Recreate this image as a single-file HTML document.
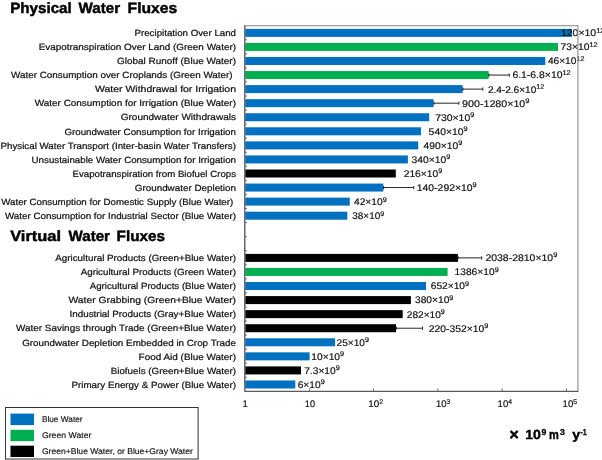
<!DOCTYPE html>
<html lang="en"><head><meta charset="utf-8"><title>Water Fluxes</title>
<style>
html,body{margin:0;padding:0;background:#fff;}
body{width:602px;height:460px;overflow:hidden;}
svg{display:block;}
text{font-family:"Liberation Sans",sans-serif;fill:#111;text-rendering:geometricPrecision;}
.l{font-size:9.0px;stroke:#111;stroke-width:0.22px;}
.v{font-size:9.6px;stroke:#111;stroke-width:0.18px;}
.s{font-size:6.8px;}
.t{font-size:14.9px;font-weight:bold;fill:#000;stroke:#000;stroke-width:0.45px;}
.u{font-size:13.2px;font-weight:bold;fill:#000;stroke:#000;stroke-width:0.4px;}
.us{font-size:8.6px;font-weight:bold;fill:#000;stroke:#000;stroke-width:0.3px;}
.g{font-size:8.2px;stroke:#111;stroke-width:0.15px;}
</style></head><body>
<svg width="602" height="460" viewBox="0 0 602 460">
<rect width="602" height="460" fill="#fff"/>
<text class="t" x="10.2" y="12.6" textLength="61.6" lengthAdjust="spacingAndGlyphs">Physical</text>
<text class="t" x="78.6" y="12.6" textLength="41.5" lengthAdjust="spacingAndGlyphs">Water</text>
<text class="t" x="127.6" y="12.6" textLength="49.6" lengthAdjust="spacingAndGlyphs">Fluxes</text>
<text class="t" x="10.2" y="241.1" textLength="50.9" lengthAdjust="spacingAndGlyphs">Virtual</text>
<text class="t" x="68.5" y="241.1" textLength="41.5" lengthAdjust="spacingAndGlyphs">Water</text>
<text class="t" x="116.6" y="241.1" textLength="48.4" lengthAdjust="spacingAndGlyphs">Fluxes</text>
<rect x="245.1" y="28.85" width="326.8" height="8.0" fill="#0070C0"/>
<text class="l" x="134.5" y="36.10" textLength="101.5" lengthAdjust="spacingAndGlyphs">Precipitation Over Land</text>
<text class="v" x="560.9" y="36.25" textLength="43.6" lengthAdjust="spacingAndGlyphs">120×10<tspan class="s" dy="-3.5">12</tspan></text>
<rect x="245.1" y="42.91" width="313.0" height="8.0" fill="#00B050"/>
<text class="l" x="38.7" y="50.16" textLength="197.3" lengthAdjust="spacingAndGlyphs">Evapotranspiration Over Land (Green Water)</text>
<text class="v" x="560.5" y="50.31" textLength="37.1" lengthAdjust="spacingAndGlyphs">73×10<tspan class="s" dy="-3.5">12</tspan></text>
<rect x="245.1" y="56.98" width="300.2" height="8.0" fill="#0070C0"/>
<text class="l" x="117" y="64.23" textLength="119.0" lengthAdjust="spacingAndGlyphs">Global Runoff (Blue Water)</text>
<text class="v" x="547.9" y="64.38" textLength="36.5" lengthAdjust="spacingAndGlyphs">46×10<tspan class="s" dy="-3.5">12</tspan></text>
<rect x="245.1" y="71.05" width="243.5" height="8.0" fill="#00B050"/>
<path d="M488.6 75.05H509.3M488.90000000000003 73.45v3.2M509.3 73.45v3.2" stroke="#1a1a1a" stroke-width="0.95" fill="none"/>
<text class="l" x="11" y="78.30" textLength="221.6" lengthAdjust="spacingAndGlyphs">Water Consumption over Croplands (Green Water)</text>
<text class="v" x="512.4" y="78.45" textLength="58.3" lengthAdjust="spacingAndGlyphs">6.1-6.8×10<tspan class="s" dy="-3.5">12</tspan></text>
<rect x="245.1" y="85.11" width="217.5" height="8.0" fill="#0070C0"/>
<path d="M462.6 89.11H482.8M462.90000000000003 87.51v3.2M482.8 87.51v3.2" stroke="#1a1a1a" stroke-width="0.95" fill="none"/>
<text class="l" x="95" y="92.36" textLength="141.0" lengthAdjust="spacingAndGlyphs">Water Withdrawal for Irrigation</text>
<text class="v" x="487.9" y="92.51" textLength="56.3" lengthAdjust="spacingAndGlyphs">2.4-2.6×10<tspan class="s" dy="-3.5">12</tspan></text>
<rect x="245.1" y="99.18" width="188.4" height="8.0" fill="#0070C0"/>
<path d="M433.5 103.18H458.9M433.8 101.58v3.2M458.9 101.58v3.2" stroke="#1a1a1a" stroke-width="0.95" fill="none"/>
<text class="l" x="34.8" y="106.43" textLength="201.2" lengthAdjust="spacingAndGlyphs">Water Consumption for Irrigation (Blue Water)</text>
<text class="v" x="462.1" y="106.58" textLength="67.4" lengthAdjust="spacingAndGlyphs">900-1280×10<tspan class="s" dy="-3.5">9</tspan></text>
<rect x="245.1" y="113.24" width="184.1" height="8.0" fill="#0070C0"/>
<text class="l" x="120.7" y="120.49" textLength="115.3" lengthAdjust="spacingAndGlyphs">Groundwater Withdrawals</text>
<text class="v" x="435.2" y="120.64" textLength="39.1" lengthAdjust="spacingAndGlyphs">730×10<tspan class="s" dy="-3.5">9</tspan></text>
<rect x="245.1" y="127.31" width="175.9" height="8.0" fill="#0070C0"/>
<text class="l" x="64.4" y="134.56" textLength="171.6" lengthAdjust="spacingAndGlyphs">Groundwater Consumption for Irrigation</text>
<text class="v" x="428.6" y="134.71" textLength="39.1" lengthAdjust="spacingAndGlyphs">540×10<tspan class="s" dy="-3.5">9</tspan></text>
<rect x="245.1" y="141.37" width="173.1" height="8.0" fill="#0070C0"/>
<text class="l" x="0.5" y="148.62" textLength="235.5" lengthAdjust="spacingAndGlyphs">Physical Water Transport (Inter-basin Water Transfers)</text>
<text class="v" x="423.5" y="148.77" textLength="38.7" lengthAdjust="spacingAndGlyphs">490×10<tspan class="s" dy="-3.5">9</tspan></text>
<rect x="245.1" y="155.44" width="162.8" height="8.0" fill="#0070C0"/>
<text class="l" x="31.6" y="162.69" textLength="204.4" lengthAdjust="spacingAndGlyphs">Unsustainable Water Consumption for Irrigation</text>
<text class="v" x="411.6" y="162.84" textLength="38.7" lengthAdjust="spacingAndGlyphs">340×10<tspan class="s" dy="-3.5">9</tspan></text>
<rect x="245.1" y="169.50" width="150.7" height="8.0" fill="#000000"/>
<text class="l" x="72.5" y="176.75" textLength="163.5" lengthAdjust="spacingAndGlyphs">Evapotranspiration from Biofuel Crops</text>
<text class="v" x="403.7" y="176.90" textLength="38.6" lengthAdjust="spacingAndGlyphs">216×10<tspan class="s" dy="-3.5">9</tspan></text>
<rect x="245.1" y="183.56" width="138.2" height="8.0" fill="#0070C0"/>
<path d="M383.3 187.56H413.8M383.6 185.97v3.2M413.8 185.97v3.2" stroke="#1a1a1a" stroke-width="0.95" fill="none"/>
<text class="l" x="134.8" y="190.81" textLength="101.2" lengthAdjust="spacingAndGlyphs">Groundwater Depletion</text>
<text class="v" x="416.8" y="190.97" textLength="59.9" lengthAdjust="spacingAndGlyphs">140-292×10<tspan class="s" dy="-3.5">9</tspan></text>
<rect x="245.1" y="197.63" width="104.7" height="8.0" fill="#0070C0"/>
<text class="l" x="1.3" y="204.88" textLength="231.9" lengthAdjust="spacingAndGlyphs">Water Consumption for Domestic Supply (Blue Water)</text>
<text class="v" x="354.0" y="205.03" textLength="32.7" lengthAdjust="spacingAndGlyphs">42×10<tspan class="s" dy="-3.5">9</tspan></text>
<rect x="245.1" y="211.69" width="102.2" height="8.0" fill="#0070C0"/>
<text class="l" x="5.0" y="218.94" textLength="231.0" lengthAdjust="spacingAndGlyphs">Water Consumption for Industrial Sector (Blue Water)</text>
<text class="v" x="352.3" y="219.09" textLength="31.9" lengthAdjust="spacingAndGlyphs">38×10<tspan class="s" dy="-3.5">9</tspan></text>
<rect x="245.1" y="253.89" width="212.8" height="8.0" fill="#000000"/>
<path d="M457.9 257.89H481.7M458.2 256.29v3.2M481.7 256.29v3.2" stroke="#1a1a1a" stroke-width="0.95" fill="none"/>
<text class="l" x="55.3" y="261.14" textLength="180.7" lengthAdjust="spacingAndGlyphs">Agricultural Products (Green+Blue Water)</text>
<text class="v" x="485.4" y="260.59" textLength="71.9" lengthAdjust="spacingAndGlyphs">2038-2810×10<tspan class="s" dy="-3.5">9</tspan></text>
<rect x="245.1" y="267.95" width="202.5" height="8.0" fill="#00B050"/>
<text class="l" x="80.7" y="275.20" textLength="155.3" lengthAdjust="spacingAndGlyphs">Agricultural Products (Green Water)</text>
<text class="v" x="454.5" y="275.35" textLength="44.2" lengthAdjust="spacingAndGlyphs">1386×10<tspan class="s" dy="-3.5">9</tspan></text>
<rect x="245.1" y="282.02" width="180.9" height="8.0" fill="#0070C0"/>
<text class="l" x="89.7" y="289.27" textLength="146.3" lengthAdjust="spacingAndGlyphs">Agricultural Products (Blue Water)</text>
<text class="v" x="430.8" y="289.42" textLength="38.2" lengthAdjust="spacingAndGlyphs">652×10<tspan class="s" dy="-3.5">9</tspan></text>
<rect x="245.1" y="296.09" width="165.8" height="8.0" fill="#000000"/>
<text class="l" x="68.5" y="303.34" textLength="167.5" lengthAdjust="spacingAndGlyphs">Water Grabbing (Green+Blue Water)</text>
<text class="v" x="415.0" y="303.49" textLength="38.4" lengthAdjust="spacingAndGlyphs">380×10<tspan class="s" dy="-3.5">9</tspan></text>
<rect x="245.1" y="310.15" width="157.6" height="8.0" fill="#000000"/>
<text class="l" x="69.5" y="317.40" textLength="166.5" lengthAdjust="spacingAndGlyphs">Industrial Products (Gray+Blue Water)</text>
<text class="v" x="406.8" y="317.55" textLength="38.0" lengthAdjust="spacingAndGlyphs">282×10<tspan class="s" dy="-3.5">9</tspan></text>
<rect x="245.1" y="324.22" width="150.9" height="8.0" fill="#000000"/>
<path d="M396.0 328.22H422.5M396.3 326.62v3.2M422.5 326.62v3.2" stroke="#1a1a1a" stroke-width="0.95" fill="none"/>
<text class="l" x="16" y="331.47" textLength="220.0" lengthAdjust="spacingAndGlyphs">Water Savings through Trade (Green+Blue Water)</text>
<text class="v" x="428.8" y="331.62" textLength="59.6" lengthAdjust="spacingAndGlyphs">220-352×10<tspan class="s" dy="-3.5">9</tspan></text>
<rect x="245.1" y="338.28" width="90.0" height="8.0" fill="#0070C0"/>
<text class="l" x="22.2" y="345.53" textLength="213.8" lengthAdjust="spacingAndGlyphs">Groundwater Depletion Embedded in Crop Trade</text>
<text class="v" x="336.6" y="345.68" textLength="32.4" lengthAdjust="spacingAndGlyphs">25×10<tspan class="s" dy="-3.5">9</tspan></text>
<rect x="245.1" y="352.35" width="64.5" height="8.0" fill="#0070C0"/>
<text class="l" x="138.6" y="359.60" textLength="97.4" lengthAdjust="spacingAndGlyphs">Food Aid (Blue Water)</text>
<text class="v" x="311.3" y="359.75" textLength="32.8" lengthAdjust="spacingAndGlyphs">10×10<tspan class="s" dy="-3.5">9</tspan></text>
<rect x="245.1" y="366.41" width="55.9" height="8.0" fill="#000000"/>
<text class="l" x="110.7" y="373.66" textLength="125.3" lengthAdjust="spacingAndGlyphs">Biofuels (Green+Blue Water)</text>
<text class="v" x="304.2" y="373.81" textLength="35.6" lengthAdjust="spacingAndGlyphs">7.3×10<tspan class="s" dy="-3.5">9</tspan></text>
<rect x="245.1" y="380.48" width="50.2" height="8.0" fill="#0070C0"/>
<text class="l" x="71.5" y="387.73" textLength="164.5" lengthAdjust="spacingAndGlyphs">Primary Energy &amp; Power (Blue Water)</text>
<text class="v" x="297.7" y="387.88" textLength="27.0" lengthAdjust="spacingAndGlyphs">6×10<tspan class="s" dy="-3.5">9</tspan></text>
<rect x="244.8" y="25.7" width="333.1" height="365.7" fill="none" stroke="#969696" stroke-width="1.2"/><path d="M244.8 25.4V391.35H578.1999999999999" fill="none" stroke="#4a4a4a" stroke-width="0.9"/>
<path d="M244.8 39.77h2.2M244.8 53.83h2.2M244.8 67.89h2.2M244.8 81.96h2.2M244.8 96.03h2.2M244.8 110.09h2.2M244.8 124.16h2.2M244.8 138.22h2.2M244.8 152.28h2.2M244.8 166.35h2.2M244.8 180.41h2.2M244.8 194.48h2.2M244.8 208.54h2.2M244.8 222.61h2.2M244.8 236.67h2.2M244.8 250.74h2.2M244.8 264.81h2.2M244.8 278.87h2.2M244.8 292.94h2.2M244.8 307.00h2.2M244.8 321.06h2.2M244.8 335.13h2.2M244.8 349.19h2.2M244.8 363.26h2.2M244.8 377.32h2.2M309.6 391.35v-3M373.5 391.35v-3M437.8 391.35v-3M502.2 391.35v-3M566.5 391.35v-3" stroke="#555" stroke-width="0.8" fill="none"/>
<text class="v" x="242.4" y="406.8">1</text>
<text class="v" x="304.8" y="406.8" textLength="10.2" lengthAdjust="spacingAndGlyphs">10</text>
<text class="v" x="368.3" y="406.8" textLength="14.8" lengthAdjust="spacingAndGlyphs">10<tspan class="s" dy="-3.3">2</tspan></text>
<text class="v" x="436.0" y="406.8" textLength="14.2" lengthAdjust="spacingAndGlyphs">10<tspan class="s" dy="-3.3">3</tspan></text>
<text class="v" x="497.6" y="406.8" textLength="14.5" lengthAdjust="spacingAndGlyphs">10<tspan class="s" dy="-3.3">4</tspan></text>
<text class="v" x="562.6" y="406.8" textLength="14.5" lengthAdjust="spacingAndGlyphs">10<tspan class="s" dy="-3.3">5</tspan></text>
<text class="u" style="font-size:16.5px" x="509.2" y="439.6">×</text>
<text class="u" x="525.2" y="438.8" textLength="15.6" lengthAdjust="spacingAndGlyphs">10</text>
<text class="us" x="541.4" y="435.3" textLength="4.8" lengthAdjust="spacingAndGlyphs">9</text>
<text class="u" x="549.0" y="438.8" textLength="9.8" lengthAdjust="spacingAndGlyphs">m</text>
<text class="us" x="560.1" y="435.3" textLength="4.9" lengthAdjust="spacingAndGlyphs">3</text>
<text class="u" x="572.3" y="438.8" textLength="7.9" lengthAdjust="spacingAndGlyphs">y</text>
<text class="us" x="580.4" y="435.3" textLength="6.4" lengthAdjust="spacingAndGlyphs">-1</text>
<rect x="5.5" y="407.5" width="192.6" height="51.5" fill="#fff" stroke="#333" stroke-width="1"/>
<rect x="10.5" y="413.6" width="23.5" height="11.5" fill="#0070C0"/>
<rect x="10.5" y="429.8" width="23.5" height="11.3" fill="#00B050"/>
<rect x="10.5" y="445.7" width="23.5" height="11.3" fill="#000000"/>
<text class="g" x="41.9" y="422.2" textLength="40.7" lengthAdjust="spacingAndGlyphs">Blue Water</text>
<text class="g" x="41.9" y="438.0" textLength="49.5" lengthAdjust="spacingAndGlyphs">Green Water</text>
<text class="g" x="41.9" y="454.2" textLength="151" lengthAdjust="spacingAndGlyphs">Green+Blue Water, or Blue+Gray Water</text>
</svg>
</body></html>
